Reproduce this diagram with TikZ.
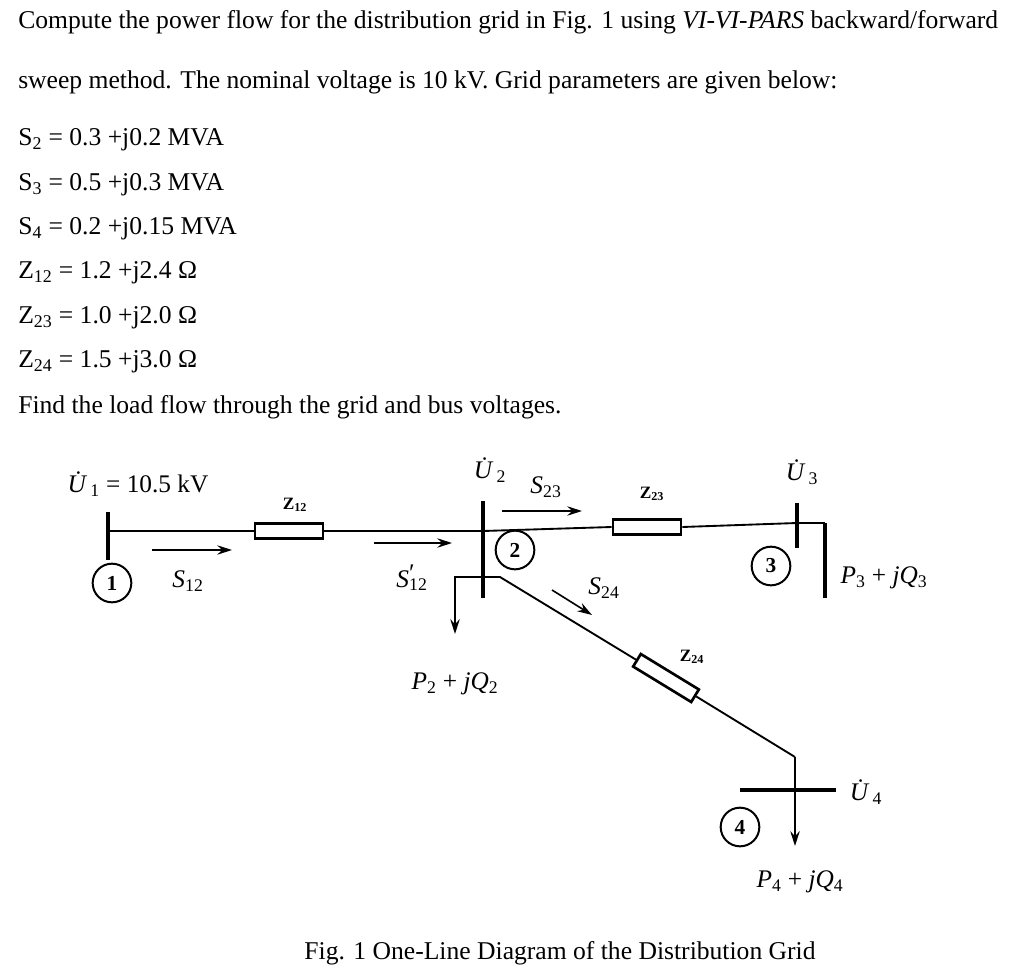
\documentclass[tikz,border=0pt]{standalone}
\usepackage{fontspec}
\setmainfont{Liberation Serif}
\usetikzlibrary{arrows.meta}
\newcommand{\vU}[1]{\textit{\.U}\kern-2pt\textsubscript{#1}}
\newcommand{\vS}[1]{\textit{S}\textsubscript{#1}}
\begin{document}
\begin{tikzpicture}[x=0.75pt,y=-0.75pt,
  txt/.style={anchor=west,inner sep=0,font=\fontsize{19.2}{22}\selectfont},
  lbl/.style={inner sep=0,font=\fontsize{19}{22}\selectfont},
  zl/.style={inner sep=0,font=\fontsize{13}{15}\selectfont\bfseries},
  busno/.style={draw,circle,line width=1.5pt,minimum size=29pt,inner sep=0,font=\fontsize{16}{18}\selectfont\bfseries},
  wire/.style={line width=1.4pt},
  bar/.style={line width=3pt},
  res/.style={draw,line width=2pt,minimum width=51pt,minimum height=11pt,inner sep=0},
  flow/.style={line width=1.2pt,-{Stealth[length=11pt,width=7pt]}}]
\useasboundingbox (0,0) rectangle (1024,970);
\node[txt] (t1) at (18,22) {Compute the power flow for the distribution grid in Fig. 1 using \textit{VI-VI-PARS} backward/forward};
\node[txt] (t2) at (18,82) {sweep method. The nominal voltage is 10 kV. Grid parameters are given below:};
\node[txt] (t3) at (18,140) {S\textsubscript{2} = 0.3 +j0.2 MVA};
\node[txt] (t4) at (18,185) {S\textsubscript{3} = 0.5 +j0.3 MVA};
\node[txt] (t5) at (18,229) {S\textsubscript{4} = 0.2 +j0.15 MVA};
\node[txt] (t6) at (18,273) {Z\textsubscript{12} = 1.2 +j2.4 Ω};
\node[txt] (t7) at (18,318) {Z\textsubscript{23} = 1.0 +j2.0 Ω};
\node[txt] (t8) at (18,362) {Z\textsubscript{24} = 1.5 +j3.0 Ω};
\node[txt] (t9) at (18,407) {Find the load flow through the grid and bus voltages.};
% bus 1
\coordinate (b1t) at (108,512); \coordinate (b1b) at (108,560); \coordinate (b1) at (108,531);
\draw[bar] (b1t) -- (b1b);
\node[res] (z12) at (289,531) {};
\coordinate (b2a) at (483,531);
\draw[wire] (b1) -- (z12.west);
\draw[wire] (z12.east) -- (b2a);
\node[zl] (z12l) at (295,505) {Z\textsubscript{12}};
\node[lbl] (u1) at (138,484) {\vU{1} = 10.5 kV};
\coordinate (s12a) at (152,550); \coordinate (s12b) at (232,550);
\draw[flow] (s12a) -- (s12b);
\node[lbl] (s12l) at (188,581) {\vS{12}};
\node[busno] (n1) at (112,583) {1};
% bus 2
\coordinate (b2t) at (483,501); \coordinate (b2b) at (483,598); \coordinate (b2c) at (483,577);
\draw[bar] (b2t) -- (b2b);
\coordinate (s12pa) at (374,543); \coordinate (s12pb) at (452,543);
\draw[flow] (s12pa) -- (s12pb);
\node[lbl] (s12pl) at (412,578) {\textit{S}\rlap{\raisebox{4pt}{′}}\textsubscript{12}};
\coordinate (l2a) at (455,577); \coordinate (l2b) at (455,634);
\draw[wire,-{Stealth[length=11pt,width=7pt]}] (b2c) -- (l2a) -- (l2b);
\node[lbl] (p2) at (455,684) {\textit{P}\textsubscript{2} + \textit{jQ}\textsubscript{2}};
\node[busno] (n2) at (515,550) {2};
\node[lbl] (u2) at (490,470) {\vU{2}};
\node[lbl] (s23l) at (546,487) {\vS{23}};
\coordinate (s23a) at (502,511); \coordinate (s23b) at (582,511);
\draw[flow] (s23a) -- (s23b);
% line 23
\node[res] (z23) at (647,527) {};
\coordinate (b3) at (797,523);
\draw[wire] (b2a) -- (z23.west);
\draw[wire] (z23.east) -- (b3);
\node[zl] (z23l) at (652,494) {Z\textsubscript{23}};
% bus 3
\coordinate (b3t) at (797,503); \coordinate (b3b) at (797,548);
\draw[bar] (b3t) -- (b3b);
\coordinate (l3a) at (825,523); \coordinate (l3b) at (825,598);
\draw[wire] (b3) -- (l3a);
\draw[bar] (l3a) -- (l3b);
\node[lbl] (u3) at (802,472) {\vU{3}};
\node[busno] (n3) at (771,566) {3};
\node[lbl] (p3) at (884,578) {\textit{P}\textsubscript{3} + \textit{jQ}\textsubscript{3}};
% line 24
\coordinate (l24a) at (500,577); \coordinate (l24b) at (795,757);
\node[res,rotate=-31.4] (z24) at (666,678) {};
\draw[wire] (b2c) -- (l24a) -- (z24.west);
\draw[wire] (z24.east) -- (l24b);
\node[zl] (z24l) at (692,657) {Z\textsubscript{24}};
\coordinate (s24a) at (552,590); \coordinate (s24b) at (592,615);
\draw[flow] (s24a) -- (s24b);
\node[lbl] (s24l) at (604,588) {\vS{24}};
% bus 4
\coordinate (b4) at (795,790); \coordinate (b4l) at (740,790); \coordinate (b4r) at (836,790);
\coordinate (l4b) at (795,846);
\draw[wire] (l24b) -- (b4);
\draw[bar] (b4l) -- (b4r);
\draw[wire,-{Stealth[length=11pt,width=7pt]}] (b4) -- (l4b);
\node[lbl] (u4) at (866,792) {\vU{4}};
\node[busno] (n4) at (740,827) {4};
\node[lbl] (p4) at (800,882) {\textit{P}\textsubscript{4} + \textit{jQ}\textsubscript{4}};
\node[inner sep=0,font=\fontsize{19.2}{22}\selectfont] (cap) at (560,953) {Fig. 1 One-Line Diagram of the Distribution Grid};
\end{tikzpicture}
\end{document}
